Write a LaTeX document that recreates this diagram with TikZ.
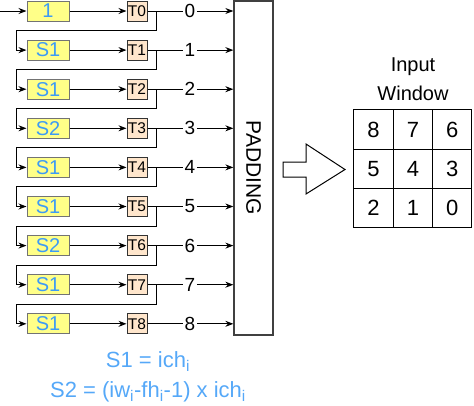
\documentclass[tikz,border=0pt]{standalone}
\usepackage{fontspec}
\setmainfont{Liberation Sans}
\usepackage{tikz}
\usetikzlibrary{positioning, arrows.meta, calc}
\definecolor{boxyellow}{HTML}{FFFF88}
\definecolor{boxpeach}{HTML}{FFE6CC}
\definecolor{lblue}{HTML}{3D9BF5}
\definecolor{legblue}{HTML}{55A8F8}
\newcommand{\fsz}[1]{\fontsize{#1}{#1}\selectfont}

\begin{document}
\begin{tikzpicture}[x=1pt, y=-1pt, >={Stealth[length=8pt,width=6pt]}, line width=1pt,
	stride/.style={draw=black!55, fill=boxyellow, minimum width=42pt, minimum height=20pt, inner sep=0pt, text=lblue, font=\fsz{20}},
	tap/.style={draw=black!80, fill=boxpeach, minimum width=20pt, minimum height=20pt, inner sep=0pt, font=\fsz{15.5}},
	cell/.style={draw, minimum size=39.3pt, inner sep=0pt, font=\fsz{22}}]
	
	\useasboundingbox (0,0) rectangle (474,405);
	
	% Padding block
	\node[draw=black!75, line width=1.3pt, minimum width=39pt, minimum height=334pt, inner sep=0pt] (pad) at (253.5,168) {};
	\node[rotate=-90, font=\fsz{21}] at (pad.center) {PADDING};
	
	% Delay line
	\foreach \i/\s in {0/1,1/S1,2/S1,3/S2,4/S1,5/S1,6/S2,7/S1,8/S1}{
		\pgfmathsetmacro{\ry}{11+39.1*\i}
		\node[stride] (S\i) at (48,\ry) {\s};
		\node[tap] (T\i) at (137,\ry) {T\i};
		\node[font=\fsz{19}, inner sep=1pt] (N\i) at (190,\ry) {\i};
		\draw[->] (S\i) -- (T\i);
		\draw (T\i) -- (N\i);
		\draw[->] (N\i) -- (N\i -| pad.west);
	}
	
	% Input
	\coordinate (in) at (0,11);
	\draw[->] (in) -- (S0);
	
	% Feedback wires
	\foreach \i [evaluate=\i as \j using int(\i+1)] in {0,...,7}{
		\pgfmathsetmacro{\my}{11+39.1*\i+19.55}
		\draw[->] (T\i.east) -- ++(9,0) |- (16,\my) |- (S\j.west);
	}
	
	% Hollow arrow
	\draw (283,162) -- (306,162) -- (306,144) -- (345,169.5) -- (306,194) -- (306,177) -- (283,177) -- cycle;
	
	% Input window
	\node[font=\fsz{20}] (title1) at (413,67) {Input};
	\node[font=\fsz{20}] (title2) at (413,93) {Window};
	\foreach \n [count=\k from 0] in {8,7,6,5,4,3,2,1,0}{
		\pgfmathsetmacro{\cx}{373.6+39.3*mod(\k,3)}
		\pgfmathsetmacro{\cy}{129.6+39.3*floor(\k/3)}
		\node[cell] (c\k) at (\cx,\cy) {\n};
	}
	
	% Legend
	\node[text=legblue, font=\fsz{22}] (leg1) at (148,362) {S1 = ich\textsubscript{i}};
	\node[text=legblue, font=\fsz{22}] (leg2) at (148,392) {S2 = (iw\textsubscript{i}-fh\textsubscript{i}-1) x ich\textsubscript{i}};
	
\end{tikzpicture}
\end{document}
